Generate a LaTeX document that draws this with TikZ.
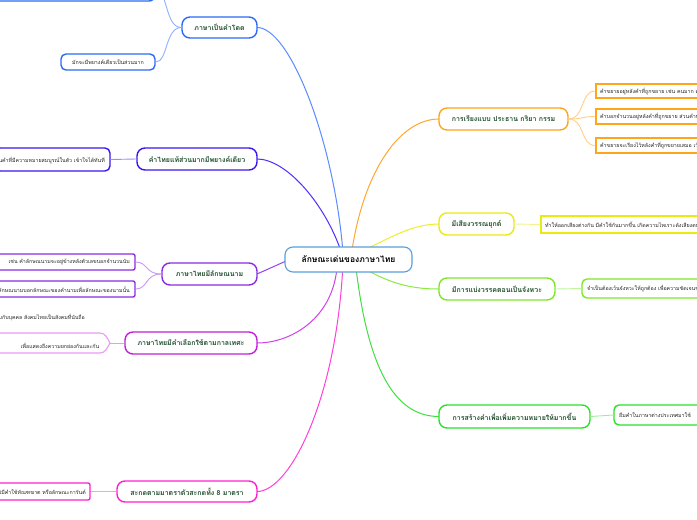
\documentclass[tikz,border=0pt]{standalone}
\usepackage{fontspec}
\newfontfamily\thai[Script=Thai]{Loma}
\definecolor{tgreen}{HTML}{1E4D2B}
\definecolor{cblue}{HTML}{5A9FDA}
\definecolor{bl}{HTML}{2B6BF5}\definecolor{blL}{HTML}{5B8CFF}\definecolor{blC}{HTML}{8FB0FF}
\definecolor{vi}{HTML}{3A17F0}\definecolor{viL}{HTML}{4B30FF}\definecolor{viC}{HTML}{9C8CFF}
\definecolor{pu}{HTML}{8B2BE2}\definecolor{puL}{HTML}{9A40F0}\definecolor{puC}{HTML}{C79AF5}
\definecolor{mv}{HTML}{C21FD8}\definecolor{mvL}{HTML}{D040E8}\definecolor{mvC}{HTML}{E89AF5}
\definecolor{pk}{HTML}{FF1FCF}\definecolor{pkL}{HTML}{FF40D8}\definecolor{pkC}{HTML}{FF9AEA}
\definecolor{or}{HTML}{FFA51A}\definecolor{orL}{HTML}{FFA830}\definecolor{orC}{HTML}{FFD08A}
\definecolor{ye}{HTML}{EAEA10}\definecolor{yeL}{HTML}{EEEE30}\definecolor{yeC}{HTML}{F3F38A}
\definecolor{lg}{HTML}{7FE62A}\definecolor{lgL}{HTML}{8AEA40}\definecolor{lgC}{HTML}{C0F59A}
\definecolor{gr}{HTML}{2EE02E}\definecolor{grL}{HTML}{40E040}\definecolor{grC}{HTML}{9AF09A}
\begin{document}
\begin{tikzpicture}[x=1pt,y=-1pt,
 main/.style={draw, rounded corners=8pt, line width=1.4pt, fill=white, font=\thai\bfseries\fontsize{7}{8}\selectfont, text=tgreen, inner sep=0pt},
 child/.style={draw, rounded corners=2pt, line width=1.4pt, fill=white, inner sep=0pt},
 rchild/.style={draw, line width=1.4pt, fill=white, inner sep=0pt},
 ctext/.style={font=\thai\fontsize{5.3}{6}\selectfont, text=black!85, inner sep=0pt},
 link/.style={line width=1pt},
 clink/.style={line width=0.9pt},
]
\useasboundingbox (0,0) rectangle (697,520);
\clip (0,0) rectangle (697,520);
\fill[white] (0,0) rectangle (697,520);

% root links
\draw[link, blL] (342.5,247) .. controls (333,140) and (290,27.5) .. (257,27.5);
\draw[link, viL] (339.5,247) .. controls (322,200) and (285,159) .. (257,159);
\draw[link, puL] (285,261.5) -- (257,274);
\draw[link, mvL] (336.5,272) .. controls (330,320) and (290,343) .. (257,343);
\draw[link, pkL] (342.5,272) .. controls (335,400) and (290,491.5) .. (257,491.5);
\draw[link, orL] (352.5,247) .. controls (365,170) and (400,119) .. (439,119);
\draw[link, yeL] (370.5,247) .. controls (395,235) and (415,224) .. (439,224);
\draw[link, lgL] (370.5,272) .. controls (395,285) and (415,289) .. (439,289);
\draw[link, grL] (356.5,272) .. controls (370,380) and (400,416.5) .. (439,416.5);

% main nodes
\node[main, draw=cblue, text=black, font=\thai\bfseries\fontsize{8.5}{10}\selectfont, minimum width=127pt, minimum height=25pt, line width=1.1pt] (root) at (348.5,259.5) {ลักษณะเด่นของภาษาไทย};
\node[main, draw=bl, minimum width=75pt, minimum height=21pt] (n1) at (219.5,27.5) {ภาษาเป็นคำโดด};
\node[main, draw=vi, minimum width=120pt, minimum height=22pt] (n2) at (197,159) {คำไทยแท้ส่วนมากมีพยางค์เดียว};
\node[main, draw=pu, minimum width=95pt, minimum height=22pt] (n3) at (209.5,274) {ภาษาไทยมีลักษณนาม};
\node[main, draw=mv, minimum width=132pt, minimum height=22pt] (n4) at (191,343) {ภาษาไทยมีคำเลือกใช้ตามกาลเทศะ};
\node[main, draw=pk, minimum width=140pt, minimum height=21pt] (n5) at (187,491.5) {สะกดตามมาตราตัวสะกดทั้ง 8 มาตรา};
\node[main, draw=or, minimum width=129pt, minimum height=22pt] (n6) at (503.5,119) {การเรียงแบบ ประธาน กริยา กรรม};
\node[main, draw=ye, minimum width=75pt, minimum height=22pt] (n7) at (476.5,224) {มีเสียงวรรณยุกต์};
\node[main, draw=lg, minimum width=116pt, minimum height=22pt] (n8) at (497,289) {มีการแบ่งวรรคตอนเป็นจังหวะ};
\node[main, draw=gr, minimum width=151pt, minimum height=23pt] (n9) at (514.5,416.5) {การสร้างคำเพื่อเพิ่มความหมายให้มากขึ้น};

% children boxes
\node[child, draw=bl, rounded corners=6pt, minimum width=170pt, minimum height=22pt] (c1a) at (70,-10) {};
\node[child, draw=bl, rounded corners=5pt, minimum width=94pt, minimum height=16pt, font=\thai\fontsize{5.3}{6}\selectfont, text=black!85] (c1b) at (108,62) {มักจะมีพยางค์เดียวเป็นส่วนมาก};
\node[child, draw=vi, rounded corners=5pt, minimum width=115pt, minimum height=23pt] (c2) at (52.5,159.5) {};
\node[ctext, anchor=east] (t2) at (105,160) {เป็นคำที่มีความหมายสมบูรณ์ในตัว เข้าใจได้ทันที};
\node[child, draw=pu, minimum width=140pt, minimum height=16pt] (c3a) at (65,262) {};
\node[ctext, anchor=east] (t3a) at (130,262) {เช่น คำลักษณนามจะอยู่ข้างหลังตัวเลขบอกจำนวนนับ};
\node[child, draw=pu, minimum width=140pt, minimum height=16pt] (c3b) at (65,289) {};
\node[ctext, anchor=east] (t3b) at (130,289.5) {คำลักษณนามบอกลักษณะของคำนามเพื่อลักษณะของนามนั้น};
\node[ctext, anchor=east] (free) at (85,317.5) {ใช้ถ้อยคำให้เหมาะสมกับบุคคล สังคมไทยเป็นสังคมที่นับถือ};
\coordinate (c4) at (110,343);
\draw[line width=1.1pt, draw=mvC, fill=white] (-5,333) -- (100,333) to[out=0,in=120] (c4) to[out=240,in=0] (100,353) -- (-5,353);
\node[ctext] (t4) at (60,346) {เพื่อแสดงถึงความยกย่องกันและกัน};
\node[child, draw=pk, minimum width=95pt, minimum height=17pt] (c5) at (42.5,491.5) {};
\node[ctext, anchor=east] (t5) at (86,492) {ไม่มีคำใช้ทัณฑฆาต หรือลักษณะการันต์};

\node[rchild, draw=or, minimum width=124pt, minimum height=14pt] (c6a) at (658,91) {};
\node[ctext, anchor=west] (t6a) at (600,91) {คำขยายอยู่หลังคำที่ถูกขยาย เช่น คนมาก ความดี};
\node[rchild, draw=or, minimum width=124pt, minimum height=15pt] (c6b) at (658,116.5) {};
\node[ctext, anchor=west] (t6b) at (600,116.5) {คำบอกจำนวนอยู่หลังคำที่ถูกขยาย ส่วนคำบอกจำนวนอยู่หน้า};
\node[rchild, draw=or, minimum width=124pt, minimum height=15pt] (c6c) at (658,145.5) {};
\node[ctext, anchor=west] (t6c) at (600,145.5) {คำขยายจะเรียงไว้หลังคำที่ถูกขยายเสมอ เว้นแต่บางคำ};
\node[rchild, draw=ye, minimum width=179pt, minimum height=17pt] (c7) at (630.5,224.5) {};
\node[ctext, anchor=west] (t7) at (545,224.5) {ทำให้ออกเสียงต่างกัน มีคำใช้กันมากขึ้น เกิดความไพเราะดังเสียงดนตรี};
\node[child, draw=lg, rounded corners=5pt, minimum width=138pt, minimum height=19pt] (c8) at (651,288.5) {};
\node[ctext, anchor=west] (t8) at (587,288.5) {จำเป็นต้องเว้นจังหวะให้ถูกต้อง เพื่อความชัดเจนของความหมาย};
\node[child, draw=gr, rounded corners=5pt, minimum width=106pt, minimum height=20pt] (c9) at (667,415) {};
\node[ctext, anchor=west] (t9) at (619,415) {ยืมคำในภาษาต่างประเทศมาใช้};

% child links
\draw[clink, blC] (n1.west) .. controls (165,27.5) and (168,-10) .. (c1a.east);
\draw[clink, blC] (n1.west) .. controls (165,27.5) and (168,62) .. (c1b.east);
\draw[clink, viC] (n2.west) -- (c2.east);
\draw[clink, puC] (n3.west) .. controls (145,274) and (148,262) .. (c3a.east);
\draw[clink, puC] (n3.west) .. controls (145,274) and (148,289) .. (c3b.east);
\draw[clink, mvC] (n4.west) -- (c4);
\draw[clink, pkC] (n5.west) -- (c5.east);
\draw[clink, orC] (n6.east) .. controls (585,119) and (580,91) .. (c6a.west);
\draw[clink, orC] (n6.east) .. controls (585,119) and (580,116.5) .. (c6b.west);
\draw[clink, orC] (n6.east) .. controls (585,119) and (580,145.5) .. (c6c.west);
\draw[clink, yeC] (n7.east) -- (c7.west);
\draw[clink, lgC] (n8.east) -- (c8.west);
\draw[clink, grC] (n9.east) -- (c9.west);
\end{tikzpicture}
\end{document}
